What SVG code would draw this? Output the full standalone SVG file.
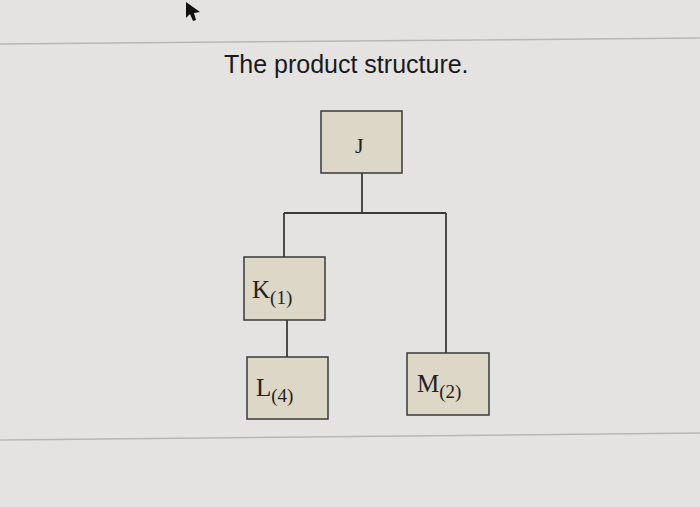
<svg xmlns="http://www.w3.org/2000/svg" width="700" height="507" viewBox="0 0 700 507">
<style>
.box{fill:#ddd7c7;stroke:#3a3a3a;stroke-width:1.5}
.lbl{font-family:"Liberation Serif",serif;font-size:25px;fill:#222}
.sub{font-family:"Liberation Serif",serif;font-size:19px;fill:#222}
.con line{stroke:#3a3a3a;stroke-width:1.8}
</style>
<rect width="700" height="507" fill="#e5e3e1"/>
<line x1="0" y1="44" x2="700" y2="38" stroke="#b8b6b4" stroke-width="1.5"/>
<line x1="0" y1="440" x2="700" y2="433" stroke="#b8b6b4" stroke-width="1.5"/>
<path d="M186,2 L200,12 L194,13 L196,20 L193,21 L190,14 L186,18 Z" fill="#111"/>
<text x="224" y="73" font-family="Liberation Sans,sans-serif" font-size="25" fill="#1a1a1a">The product structure.</text>
<g class="con">
<line x1="362" y1="173" x2="362" y2="213"/>
<line x1="284" y1="213" x2="446" y2="213"/>
<line x1="284" y1="213" x2="284" y2="257"/>
<line x1="446" y1="213" x2="446" y2="353"/>
<line x1="287" y1="320" x2="287" y2="357"/>
</g>
<g id="J"><rect class="box" x="321" y="111" width="81" height="62"/><text class="sub" x="355" y="153" style="font-size:22px">J</text></g>
<g id="K"><rect class="box" x="244" y="257" width="81" height="63"/><text class="lbl" x="252" y="298">K<tspan class="sub" dy="6">(1)</tspan></text></g>
<g id="L"><rect class="box" x="247" y="357" width="81" height="62"/><text class="lbl" x="256" y="396">L<tspan class="sub" dy="6">(4)</tspan></text></g>
<g id="M"><rect class="box" x="407" y="353" width="82" height="62"/><text class="lbl" x="417" y="392">M<tspan class="sub" dy="6">(2)</tspan></text></g>
</svg>
